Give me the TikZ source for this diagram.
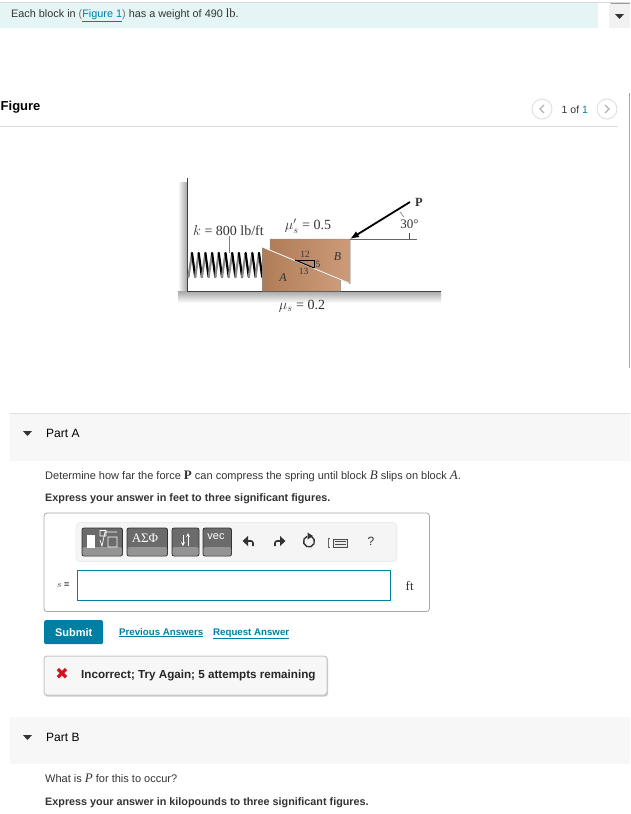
\documentclass[tikz,border=0pt]{standalone}
\usepackage{amsmath}
\usepackage{fontspec}
\setmainfont{Liberation Sans}
\newfontfamily\figfont{Liberation Serif}
\newfontfamily\symfont{DejaVu Sans}
\newcommand{\bigfig}{\fontsize{13}{13}\selectfont\figfont}
\usetikzlibrary{positioning, arrows.meta}
\definecolor{teal link}{HTML}{007FA3}
\definecolor{ink}{HTML}{333333}
\definecolor{band}{HTML}{F7F7F7}
\definecolor{tint}{HTML}{E5F5F6}
\definecolor{copper}{HTML}{C48A62}
\definecolor{wrong}{HTML}{D61020}

\begin{document}
\begin{tikzpicture}[x=1pt, y=-1pt,
  ui text/.style={anchor=mid west, inner sep=0pt, yshift=-1.5pt, text=ink, font=\fontsize{10.85}{13}\selectfont},
  question text/.style={ui text, font=\fontsize{11}{13}\selectfont},
  strong text/.style={ui text, font=\fontsize{10.8}{13}\selectfont\bfseries},
  head text/.style={ui text, text=black, font=\fontsize{12}{14}\selectfont},
  link text/.style={ui text, text=teal link, font=\fontsize{9.7}{12}\selectfont\bfseries},
  fig text/.style={inner sep=0pt, text=ink, font=\fontsize{14}{16}\selectfont\figfont},
  small fig/.style={inner sep=0pt, text=ink, font=\fontsize{9.5}{11}\selectfont\figfont},
  pager/.style={draw=black!12, circle, line width=1pt, minimum size=20pt, inner sep=0pt},
  chevron/.style={draw=black!30, line width=1.3pt},
  tool button/.style={draw=black!80, fill=black!58, rounded corners=2pt, line width=0.8pt},
  tool lower/.style={fill=black!42},
  tool icon/.style={draw=ink, line width=1.6pt},
  block/.style={draw=black!45, line width=0.5pt, left color=copper!90!black, right color=copper!85!white},
  drop/.style={fill=ink, draw=none}]
\useasboundingbox (0,0) rectangle (630,814);

% header
\fill[tint] (0,3) rectangle (598,28);
\draw[black!15, line width=1pt] (0,2.5) -- (630,2.5);
\fill[black!5] (609,3) rectangle (630,28);
\draw[black!40, line width=1.5pt] (611,3.5) -- (630,3.5);
\fill[drop] (615,14) -- (624,14) -- (619.5,19) -- cycle;
\node[ui text] (given) at (11,13) {Each block in {\color{black!55}(}\textcolor{teal link}{\underline{Figure 1}}{\color{black!55})} has a weight of 490 {\fontsize{12.5}{13}\selectfont\figfont lb}.};
\node[head text, font=\fontsize{13}{15}\selectfont\bfseries] (figure) at (0.5,106) {Figure};
\draw[black!15, line width=1pt] (0,126.5) -- (618,126.5);
\node[pager] (prev) at (542,109) {};
\node[pager] (next) at (607,109) {};
\draw[chevron] (544,105) -- (540,109) -- (544,113);
\draw[chevron] (605,105) -- (609,109) -- (605,113);
\node[ui text, font=\fontsize{10.5}{13}\selectfont] (count) at (561.5,109) {1 of \textcolor{teal link}{1}};
\draw[black!35, line width=1pt] (629.5,93) -- (629.5,368);

% figure
\shade[left color=white, right color=black!35] (178,182) rectangle (187,291);
\shade[top color=black!35, bottom color=white] (178,291) rectangle (441,303);
\draw[black!75, line width=1pt] (187.5,178) -- (187.5,291) -- (441,291);
\coordinate (spring top) at (229.5,253);
\foreach \i in {0,...,10} {
  \draw[black!45, line width=2.2pt, line cap=round] ({188.5+6.7*\i},277) -- ({192+6.7*\i},253);
  \draw[black, line width=2.2pt, line cap=round] ({192+6.7*\i},253) -- ({195.2+6.7*\i},277);
}
\draw[block] (262.3,247.3) -- (340.7,280) -- (340.7,291) -- (262.3,291) -- cycle;
\draw[block] (270,239) -- (350,239) -- (350,283.5) -- (270,250.2) -- cycle;
\draw[white, line width=0.8pt] (262.3,247) -- (349,283);
\draw[black, line width=0.6pt] (295,260) -- (314,260) -- (314,268);
\draw[black, line width=1pt] (295,260) -- (314,268);
\node[fig text] (k label) at (228.5,231) {$k$ = 800 lb/ft};
\draw[black!50, line width=0.5pt] (k label.south -| spring top) -- (spring top);
\node[fig text] (mu top) at (308,226) {$\mu'_s$ = 0.5};
\node[fig text] (mu bottom) at (302,306) {$\mu_s$ = 0.2};
\node[small fig, font=\fontsize{12}{14}\selectfont\figfont\itshape] (block a) at (283,278) {A};
\node[small fig, font=\fontsize{12}{14}\selectfont\figfont\itshape] (block b) at (337.5,257) {B};
\node[small fig] (run) at (305,254.5) {12};
\node[small fig] (rise) at (318,264) {5};
\node[small fig] (slope) at (303.5,271) {13};
\coordinate (load tip) at (350,239);
\coordinate (load tail) at (410,202);
\node[small fig, font=\fontsize{12.5}{14}\selectfont\figfont\bfseries, right=5pt of load tail] (load) {P};
\draw[black!60, line width=0.6pt] (load tip) -- (417,239);
\draw[black, line width=1.8pt, -{Latex[length=9pt,width=7pt]}] (load tail) -- (load tip);
\node[fig text, font=\fontsize{13}{15}\selectfont\figfont] (angle) at (409.5,224) {30°};
\draw[black!70, line width=0.4pt] (400,212) -- (404,217);
\draw[black!70, line width=0.4pt] (409,233) -- (409,239);

% part A
\fill[band] (10,414) rectangle (630,461);
\draw[black!12, line width=0.7pt] (10,413.5) -- (630,413.5);
\fill[drop] (23,431) -- (32,431) -- (27.5,436) -- cycle;
\node[head text] (part a) at (46,433) {Part A};
\node[question text] (question a) at (45,475) {Determine how far the force {\bigfig\bfseries P} can compress the spring until block {\bigfig\itshape B} slips on block {\bigfig\itshape A}.};
\node[strong text] (format a) at (45,497) {Express your answer in feet to three significant figures.};

\draw[black!35, rounded corners=3pt, line width=0.8pt] (44,513) rectangle (429.5,611.5);
\draw[black!8, fill=black!4, rounded corners=4pt, line width=0.7pt] (76,522.5) rectangle (397,561.5);
\foreach \left/\right in {82/122.5, 127/167.5, 172/199, 203/231.5} {
  \draw[tool button] (\left,528) rectangle (\right,556);
  \fill[tool lower, rounded corners=1.5pt] (\left+0.5,547) rectangle (\right-0.5,555.5);
}
\fill[white] (87,535) rectangle (95,548);
\draw[white, line width=0.7pt] (100,530.5) rectangle (106,536) (100,540) -- (102,546) -- (105,532) -- (117,532) (108,537) rectangle (117,547);
\node[inner sep=0pt, text=white, font=\fontsize{13}{15}\selectfont\figfont] (symbols) at (145,538) {ΑΣΦ};
\draw[white, line width=0.8pt, ->, >=stealth] (183,535) -- (183,546);
\draw[white, line width=0.8pt, ->, >=stealth] (188,546) -- (188,533);
\node[inner sep=0pt, text=white, font=\fontsize{11}{13}\selectfont] (vec) at (216,537) {vec};
\draw[tool icon, rounded corners=2pt] (253,546) -- (253,541) -- (246,541);
\fill[ink] (248,536) -- (242.5,541) -- (248,546) -- cycle;
\draw[tool icon, rounded corners=2pt] (275,546) -- (275,541) -- (282,541);
\fill[ink] (280,536) -- (285.5,541) -- (280,546) -- cycle;
\draw[draw=ink, line width=1.4pt] (307.1,536.3) arc[start angle=-110, end angle=-420, radius=5.5];
\fill[ink] (307.5,532.5) -- (313,536) -- (307.5,539.5) -- cycle;
\draw[black!60, line width=0.7pt] (330,538) -- (328.5,538) -- (328.5,547) -- (330,547);
\draw[black!70, fill=black!8, line width=0.7pt] (333,539) rectangle (347.5,547);
\draw[black!70, line width=0.7pt] (335,541.5) -- (345.5,541.5) (335,544.5) -- (345.5,544.5);
\node[inner sep=0pt, text=ink, font=\fontsize{12}{14}\selectfont] (help) at (371,541) {?};
\node[draw=teal link, line width=1pt, fill=white, minimum width=313pt, minimum height=30pt, inner sep=0pt, anchor=north west] (answer a) at (77,570) {};
\node[inner sep=0pt, text=ink, font=\fontsize{9}{10}\selectfont\bfseries, left=7.5pt of answer a] (var s) {$s$ =};
\node[inner sep=0pt, text=ink, font=\fontsize{13}{15}\selectfont\figfont, right=14.5pt of answer a] (unit a) {ft};

\node[fill=teal link, rounded corners=1.5pt, minimum width=59pt, minimum height=24pt, inner sep=0pt, text=white, font=\fontsize{11}{14}\selectfont\bfseries, anchor=north west] (submit) at (44,620) {Submit};
\node[link text] (previous) at (119,631) {\underline{Previous Answers}};
\node[link text] (request) at (213,631) {\underline{Request Answer}};
\fill[black!22, rounded corners=3pt] (44.5,657) rectangle (328,696.5);
\draw[black!22, fill=band, rounded corners=3pt, line width=1pt] (44,656) rectangle (327,695);
\node[inner sep=0pt, text=wrong, font=\fontsize{16}{18}\selectfont\symfont\bfseries] (cross) at (62,674) {✖};
\node[ui text, text=black!85, font=\fontsize{11.65}{14}\selectfont\bfseries] (feedback) at (81,674.5) {Incorrect; Try Again; 5 attempts remaining};

% part B
\fill[band] (10,717) rectangle (630,764);
\fill[drop] (23,735) -- (32,735) -- (27.5,740) -- cycle;
\node[head text] (part b) at (46,737) {Part B};
\node[question text] (question b) at (45,778) {What is {\bigfig\itshape P} for this to occur?};
\node[strong text] (format b) at (45,801) {Express your answer in kilopounds to three significant figures.};
\end{tikzpicture}
\end{document}
